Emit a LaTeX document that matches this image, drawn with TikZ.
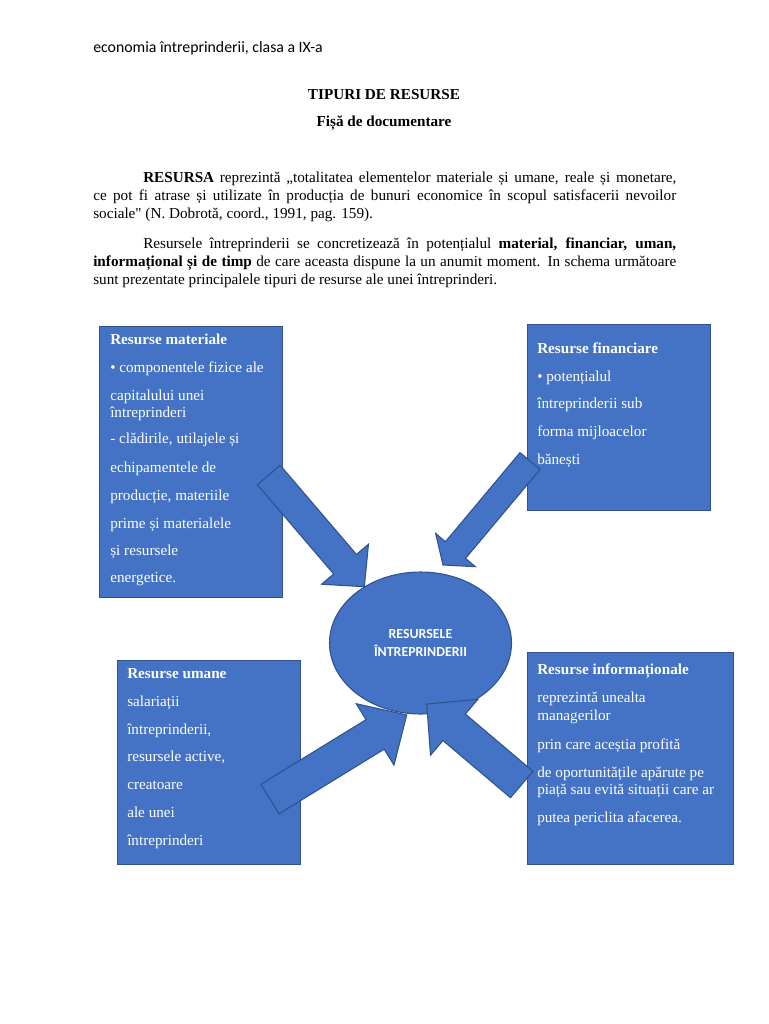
\documentclass[tikz,border=0pt]{standalone}
\usepackage{fontspec}
\setmainfont{Liberation Serif}
\newfontfamily\calibri{Carlito}
\font\plainq="Liberation Serif" at 11.4pt
\usetikzlibrary{shapes.geometric,calc}
\definecolor{wblue}{HTML}{4472C4}
\definecolor{wline}{HTML}{2F528F}
\tikzset{
  body/.style={anchor=base west, inner sep=0, font=\fontsize{11.4}{13.5}\selectfont},
  boxtext/.style={anchor=base west, inner sep=0, text=white, font=\fontsize{11.4}{13.5}\selectfont},
  rbox/.style={draw=wline, fill=wblue, line width=0.8pt, rectangle, inner sep=0, anchor=north west},
  blockarrowstyle/.style={draw=wline, fill=wblue, line width=0.8pt, line join=miter},
}
% #1 name, #2 tail coord, #3 tip coord, #4 shaft half width, #5 head half width, #6 head length
\newcommand\blockarrow[6]{%
  \coordinate (#1J) at ($(#3)!#6!(#2)$);
  \path[blockarrowstyle]
    ($(#2)!#4!90:(#3)$) --
    ($(#1J)!#4!-90:(#2)$) --
    ($(#1J)!#5!-90:(#2)$) --
    (#3) --
    ($(#1J)!#5!90:(#2)$) --
    ($(#1J)!#4!90:(#2)$) --
    ($(#2)!#4!-90:(#3)$) -- cycle;
}
\begin{document}
\begin{tikzpicture}[x=0.75pt,y=-0.75pt]
\useasboundingbox (0,0) rectangle (768,1024);
\fill[white] (0,0) rectangle (768,1024);

% header
\node[anchor=base west, inner sep=0, font=\calibri\fontsize{11.85}{13}\selectfont] (hdr) at (93,53) {economia întreprinderii, clasa a IX-a};
\node[anchor=base, inner sep=0, font=\bfseries\fontsize{11.4}{13}\selectfont] (title) at (384,99) {TIPURI DE RESURSE};
\node[anchor=base, inner sep=0, font=\bfseries\fontsize{11.4}{13}\selectfont] (subtitle) at (384,127) {Fișă de documentare};

% paragraphs
\node[body] (p1a) at (143,182.5) {\makebox[399.75pt][s]{\textbf{RESURSA} reprezintă „totalitatea elementelor materiale și umane, reale și monetare,}};
\node[body] (p1b) at (93,200.5) {\makebox[437.25pt][s]{ce pot fi atrase și utilizate în producția de bunuri economice în scopul satisfacerii nevoilor}};
\node[body] (p1c) at (93,218.5) {sociale{\plainq\char"22} (N. Dobrotă, coord., 1991, pag. 159).};
\node[body] (p2a) at (143,248.5) {\makebox[399.75pt][s]{Resursele întreprinderii se concretizează în potențialul \textbf{material, financiar, uman,}}};
\node[body] (p2b) at (93,266.5) {\makebox[437.25pt][s]{\textbf{informațional și de timp} de care aceasta dispune la un anumit moment. In schema următoare}};
\node[body] (p2c) at (93,284.5) {sunt prezentate principalele tipuri de resurse ale unei întreprinderi.};

% boxes
\node[rbox, minimum width=137.25pt, minimum height=203.25pt] (mat) at (99,326) {};
\node[rbox, minimum width=137.25pt, minimum height=139.5pt] (fin) at (527,324) {};
\node[rbox, minimum width=137.25pt, minimum height=153pt] (uma) at (117,660) {};
\node[rbox, minimum width=154.5pt, minimum height=159pt] (inf) at (527,652) {};

% central ellipse
\node[ellipse, draw=wline, fill=wblue, line width=0.8pt, minimum width=136.5pt, minimum height=106.5pt, inner sep=0,
      text=white, align=center, font=\calibri\bfseries\fontsize{10.4}{13.5}\selectfont] (ell) at (420.5,643)
      {RESURSELE\\ÎNTREPRINDERII};

% block arrows
\coordinate (matT) at (268.8,475);   \coordinate (matH) at (364.3,586.7);
\coordinate (finT) at (530,461);     \coordinate (finH) at (443,565);
\coordinate (umaT) at (270,799);     \coordinate (umaH) at (406.7,715);
\coordinate (infT) at (521.7,784.5); \coordinate (infH) at (426.7,704);
\blockarrow{a1}{matT}{matH}{11.25pt}{23.1pt}{22.2pt}
\blockarrow{a2}{finT}{finH}{9.8pt}{19.4pt}{14.6pt}
\blockarrow{a3}{umaT}{umaH}{13pt}{27pt}{27.8pt}
\blockarrow{a4}{infT}{infH}{13pt}{27.4pt}{27pt}

% texts of Resurse materiale
\node[boxtext] (mat1) at (110,344.5) {\textbf{Resurse materiale}};
\node[boxtext] (mat2) at (110,372) {• componentele fizice ale};
\node[boxtext] (mat3) at (110,400.5) {capitalului unei};
\node[boxtext] (mat4) at (110,417.5) {întreprinderi};
\node[boxtext] (mat5) at (110,443.5) {- clădirile, utilajele și};
\node[boxtext] (mat6) at (110,472) {echipamentele de};
\node[boxtext] (mat7) at (110,500) {producție, materiile};
\node[boxtext] (mat8) at (110,528) {prime și materialele};
\node[boxtext] (mat9) at (110,555) {și resursele};
\node[boxtext] (mat10) at (110,582.5) {energetice.};

% texts of Resurse financiare
\node[boxtext] (fin1) at (537,353.5) {\textbf{Resurse financiare}};
\node[boxtext] (fin2) at (537,381.5) {• potențialul};
\node[boxtext] (fin3) at (537,408.5) {întreprinderii sub};
\node[boxtext] (fin4) at (537,436.5) {forma mijloacelor};
\node[boxtext] (fin5) at (537,464.5) {bănești};

% texts of Resurse umane
\node[boxtext] (uma1) at (127,678.5) {\textbf{Resurse umane}};
\node[boxtext] (uma2) at (127,706.5) {salariații};
\node[boxtext] (uma3) at (127,734.5) {întreprinderii,};
\node[boxtext] (uma4) at (127,761.5) {resursele active,};
\node[boxtext] (uma5) at (127,789.5) {creatoare};
\node[boxtext] (uma6) at (127,817.5) {ale unei};
\node[boxtext] (uma7) at (127,845.5) {întreprinderi};

% texts of Resurse informationale
\node[boxtext] (inf1) at (537,674.5) {\textbf{Resurse informaționale}};
\node[boxtext] (inf2) at (537,702.5) {reprezintă unealta};
\node[boxtext] (inf3) at (537,720.5) {managerilor};
\node[boxtext] (inf4) at (537,749.5) {prin care aceștia profită};
\node[boxtext] (inf5) at (537,777.5) {de oportunitățile apărute pe};
\node[boxtext] (inf6) at (537,794.5) {piață sau evită situații care ar};
\node[boxtext] (inf7) at (537,822.5) {putea periclita afacerea.};
\end{tikzpicture}
\end{document}
